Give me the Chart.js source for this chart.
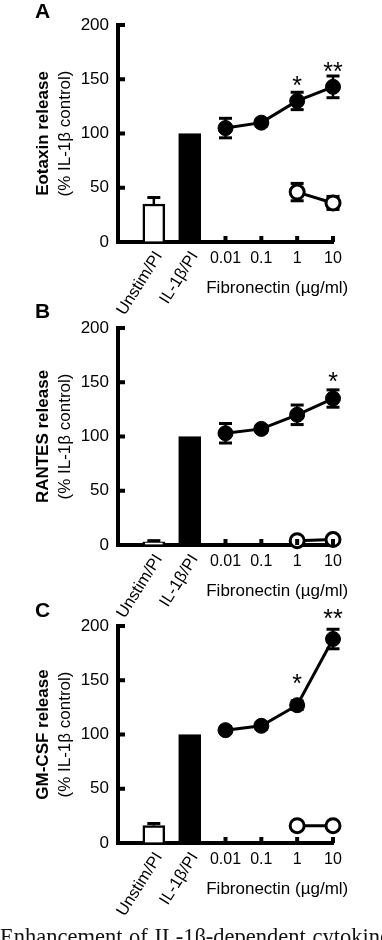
<!DOCTYPE html>
<html>
<head>
<meta charset="utf-8">
<script src="https://cdn.jsdelivr.net/npm/chart.js@4.4.0/dist/chart.umd.min.js"></script>
<style>
  body { margin: 0; background: #fff; width: 382px; height: 940px; overflow: hidden; position: relative; }
  .panel { position: absolute; left: 0; width: 382px; height: 330px; }
  .letter { position: absolute; left: 35px; font-family: "Liberation Sans", Arial, sans-serif; font-weight: bold; font-size: 21px; line-height: 21px; color: #000; }
  #caption { position: absolute; left: 0; top: 926px; font-family: "Liberation Serif", serif; font-size: 22.5px; line-height: 22px; word-spacing: 1px; white-space: nowrap; color: #111; }
</style>
</head>
<body>
<div class="panel" style="top:0"><canvas id="chartA" width="382" height="330"></canvas></div>
<div class="panel" style="top:303px"><canvas id="chartB" width="382" height="330"></canvas></div>
<div class="panel" style="top:601px"><canvas id="chartC" width="382" height="330"></canvas></div>
<div class="letter" style="top:0">A</div>
<div class="letter" style="top:300px">B</div>
<div class="letter" style="top:599px">C</div>
<div id="caption">Enhancement of IL-1β-dependent cytokine</div>
<script>
// categories along the x axis (first two are bars, the rest fibronectin doses)
const categories = ['Unstim/PI', 'IL-1β/PI', '0.01', '0.1', '1', '10']
const yTicks = [0, 50, 100, 150, 200]

// A - eotaxin
const eotaxinBars = [35, 100]
const eotaxinBarErr = [6, 0]
const eotaxinFn = [105, 110, 130, 143]
const eotaxinFnErr = [9, 3, 8, 10]
const eotaxinCtrl = [46, 36]          // at 1 and 10 ug/ml
const eotaxinCtrlErr = [8, 6]
const eotaxinStars = ['', '', '*', '**']
const eotaxinStarLevel = [null, null, 148, 161]

// B - RANTES
const rantesBars = [3, 100]
const rantesBarErr = [1, 0]
const rantesFn = [103, 107, 120, 135]
const rantesFnErr = [9, 3, 9, 8]
const rantesCtrl = [4, 5]
const rantesCtrlErr = [1, 1]
const rantesStars = ['', '', '', '*']
const rantesStarLevel = [null, null, null, 155]

// C - GM-CSF
const gmcsfBars = [16, 100]
const gmcsfBarErr = [2, 0]
const gmcsfFn = [104, 108, 127, 188]
const gmcsfFnErr = [3, 3, 4, 9]
const gmcsfCtrl = [16, 16]
const gmcsfCtrlErr = [1, 1]
const gmcsfStars = ['', '', '*', '**']
const gmcsfStarLevel = [null, null, 151, 211]

const FONT = '"Liberation Sans", Arial, sans-serif'
const labels = [''].concat(categories)

const line = (ctx, x1, y1, x2, y2) => {
  ctx.beginPath()
  ctx.moveTo(x1, y1)
  ctx.lineTo(x2, y2)
  ctx.stroke()
}

const extras = {
  id: 'extras',
  beforeDatasetsDraw(chart, args, o) {
    const ctx = chart.ctx
    const xs = chart.scales.x
    const ys = chart.scales.y
    ctx.save()
    ctx.strokeStyle = '#000'
    for (const e of o.errors) {
      e.data.forEach((v, i) => {
        if (v == null || !e.err[i]) return
        const px = xs.getPixelForValue(i)
        const top = ys.getPixelForValue(v + e.err[i])
        const bot = e.upOnly ? ys.getPixelForValue(v) : ys.getPixelForValue(v - e.err[i])
        ctx.lineWidth = 2.5
        line(ctx, px, top, px, bot)
        ctx.lineWidth = 3
        line(ctx, px - 6.5, top, px + 6.5, top)
        if (!e.upOnly) line(ctx, px - 6.5, bot, px + 6.5, bot)
      })
    }
    ctx.restore()
  },
  afterDraw(chart, args, o) {
    const ctx = chart.ctx
    const xs = chart.scales.x
    const ys = chart.scales.y
    const area = chart.chartArea
    ctx.save()
    ctx.fillStyle = '#000'

    // inward tick stubs
    for (const t of yTicks) {
      if (t === 0) continue
      const py = ys.getPixelForValue(t)
      ctx.fillRect(area.left, py - 2, 7, 4)
    }
    for (let i = 3; i < labels.length; i++) {
      const px = xs.getPixelForValue(i)
      ctx.fillRect(px - 2, area.bottom - 6, 4, 6)
    }

    // rotated bar labels
    ctx.font = '16.5px ' + FONT
    ctx.textAlign = 'right'
    ctx.textBaseline = 'middle'
    for (let i = 1; i <= 2; i++) {
      const px = xs.getPixelForValue(i)
      ctx.save()
      ctx.translate(px + 5, area.bottom + 11)
      ctx.rotate(-58 * Math.PI / 180)
      ctx.fillText(labels[i], 0, 0)
      ctx.restore()
    }

    // x title under the dose ticks
    ctx.font = '17px ' + FONT
    ctx.textAlign = 'center'
    ctx.textBaseline = 'middle'
    const cx = (xs.getPixelForValue(3) + xs.getPixelForValue(6)) / 2 - 2
    ctx.fillText('Fibronectin (µg/ml)', cx, area.bottom + 46)

    // y title, two lines
    const cy = (area.top + area.bottom) / 2
    ctx.save()
    ctx.translate(43, cy)
    ctx.rotate(-Math.PI / 2)
    ctx.font = 'bold 17px ' + FONT
    ctx.fillText(o.title, 0, 0)
    ctx.restore()
    ctx.save()
    ctx.translate(65, cy)
    ctx.rotate(-Math.PI / 2)
    ctx.font = '17px ' + FONT
    ctx.fillText('(% IL-1β control)', 0, 0)
    ctx.restore()

    // significance stars
    ctx.font = '25px ' + FONT
    ctx.textAlign = 'center'
    ctx.textBaseline = 'middle'
    o.stars.forEach((s, k) => {
      if (!s) return
      const px = xs.getPixelForValue(k + 3)
      const py = ys.getPixelForValue(o.starLevel[k])
      ctx.fillText(s, px, py + 6)
    })
    ctx.restore()
  }
}

function makePanel(id, title, bars, barErr, fn, fnErr, ctrl, ctrlErr, stars, starLevel) {
  const barData = labels.map((_, i) => (i >= 1 && i <= 2) ? bars[i - 1] : null)
  const barErrData = labels.map((_, i) => (i >= 1 && i <= 2) ? barErr[i - 1] : 0)
  const fnData = labels.map((_, i) => i >= 3 ? fn[i - 3] : null)
  const fnErrData = labels.map((_, i) => i >= 3 ? fnErr[i - 3] : 0)
  const ctrlData = labels.map((_, i) => i >= 5 ? ctrl[i - 5] : null)
  const ctrlErrData = labels.map((_, i) => i >= 5 ? ctrlErr[i - 5] : 0)

  return new Chart(document.getElementById(id), {
    data: {
      labels: labels,
      datasets: [
        {
          type: 'bar',
          data: barData,
          backgroundColor: labels.map((_, i) => i === 1 ? '#fff' : '#000'),
          borderColor: '#000',
          borderWidth: 2.5,
          barThickness: 22,
          clip: false,
          order: 3
        },
        {
          type: 'line',
          data: fnData,
          borderColor: '#000',
          borderWidth: 3,
          pointRadius: 7.5,
          pointBackgroundColor: '#000',
          pointBorderColor: '#000',
          pointBorderWidth: 1,
          clip: false,
          order: 1
        },
        {
          type: 'line',
          data: ctrlData,
          borderColor: '#000',
          borderWidth: 3,
          pointRadius: 7,
          pointBackgroundColor: '#fff',
          pointBorderColor: '#000',
          pointBorderWidth: 3,
          clip: false,
          order: 0
        }
      ]
    },
    options: {
      responsive: false,
      animation: false,
      events: [],
      layout: { padding: { left: 0, top: 25, right: 49, bottom: 0 } },
      scales: {
        x: {
          type: 'category',
          offset: false,
          grid: { drawOnChartArea: false, drawTicks: false },
          border: { display: true, color: '#000', width: 4 },
          ticks: {
            autoSkip: false,
            maxRotation: 0,
            minRotation: 0,
            padding: 7,
            color: '#000',
            font: { family: FONT, size: 16 },
            callback: (v, i) => i >= 3 ? labels[i] : ''
          },
          afterFit: (s) => { s.height = 88 }
        },
        y: {
          min: 0,
          max: 200,
          grid: { drawOnChartArea: false, drawTicks: false },
          border: { display: true, color: '#000', width: 4 },
          ticks: {
            stepSize: 50,
            padding: 9,
            color: '#000',
            font: { family: FONT, size: 17 }
          },
          afterFit: (s) => { s.width = 118 }
        }
      },
      plugins: {
        legend: { display: false },
        tooltip: { enabled: false },
        extras: {
          title: title,
          stars: stars,
          starLevel: starLevel,
          errors: [
            { data: barData, err: barErrData, upOnly: true },
            { data: fnData, err: fnErrData },
            { data: ctrlData, err: ctrlErrData }
          ]
        }
      }
    },
    plugins: [extras]
  })
}

makePanel('chartA', 'Eotaxin release', eotaxinBars, eotaxinBarErr, eotaxinFn, eotaxinFnErr, eotaxinCtrl, eotaxinCtrlErr, eotaxinStars, eotaxinStarLevel)
makePanel('chartB', 'RANTES release', rantesBars, rantesBarErr, rantesFn, rantesFnErr, rantesCtrl, rantesCtrlErr, rantesStars, rantesStarLevel)
makePanel('chartC', 'GM-CSF release', gmcsfBars, gmcsfBarErr, gmcsfFn, gmcsfFnErr, gmcsfCtrl, gmcsfCtrlErr, gmcsfStars, gmcsfStarLevel)
</script>
</body>
</html>
